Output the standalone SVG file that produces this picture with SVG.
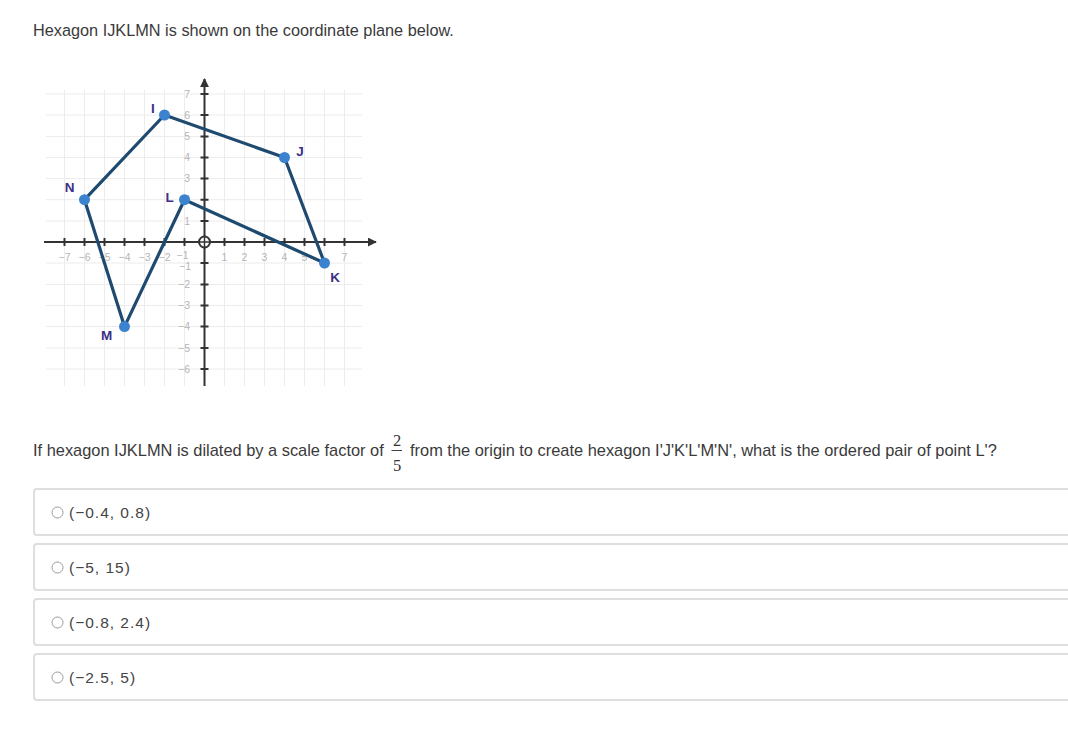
<svg xmlns="http://www.w3.org/2000/svg" width="1068" height="742" viewBox="0 0 1068 742">
<style>
text{font-family:"Liberation Sans",Arial,sans-serif}
.t{font-size:16.3px;fill:#3a3a3a}
.q{font-size:16.4px;fill:#3a3a3a}
.opt{font-size:15.5px;fill:#444;letter-spacing:1px}
.box{fill:#fff;stroke:#dedede;stroke-width:2}
.radio{fill:#fff;stroke:#9a9a9a;stroke-width:1}
.grid{stroke:#ececec;stroke-width:1}
.axis{stroke:#333;stroke-width:2;fill:none}
.tick{stroke:#333;stroke-width:2}
.lbl{font-size:10.5px;fill:#b5b5b5}
.edge{stroke:#1f4a70;stroke-width:3.2;fill:none;stroke-linecap:round}
.pt{fill:#3b83cf}
.vl{font-size:13.5px;font-weight:bold;fill:#3b2f86}
.fr{font-family:"Liberation Serif",serif;font-size:16.5px;fill:#333}
</style>
<defs>
<marker id="arr" viewBox="0 0 10 10" refX="9" refY="5" markerWidth="4.5" markerHeight="4.5" orient="auto">
<path d="M0,0 L10,5 L0,10 z" fill="#333"/>
</marker>
</defs>
<rect width="1068" height="742" fill="#fff"/>
<text class="t" x="33" y="36">Hexagon IJKLMN is shown on the coordinate plane below.</text>

<g id="grid">
<path class="grid" d="M64.5,90V386M84.5,90V386M104.5,90V386M124.5,90V386M144.5,90V386M164.5,90V386M184.5,90V386M224.5,90V386M244.5,90V386M264.5,90V386M284.5,90V386M304.5,90V386M324.5,90V386M344.5,90V386"/>
<path class="grid" d="M46,94H362M46,115H362M46,157.5H362M46,136.5H362M46,178.5H362M46,199.7H362M46,221H362M46,263H362M46,284.5H362M46,305.5H362M46,326.6H362M46,348H362M46,369H362"/>
</g>

<g id="axes">
<line class="axis" x1="44" y1="242" x2="376" y2="242" marker-end="url(#arr)"/>
<line class="axis" x1="204.5" y1="386" x2="204.5" y2="79" marker-end="url(#arr)"/>
<path class="tick" d="M64.5,238V246M84.5,238V246M104.5,238V246M124.5,238V246M144.5,238V246M164.5,238V246M184.5,238V246M224.5,238V246M244.5,238V246M264.5,238V246M284.5,238V246M304.5,238V246M324.5,238V246M344.5,238V246"/>
<path class="tick" d="M200.5,94H208.5M200.5,115H208.5M200.5,136.5H208.5M200.5,157.5H208.5M200.5,178.5H208.5M200.5,199.7H208.5M200.5,221H208.5M200.5,263H208.5M200.5,284.5H208.5M200.5,305.5H208.5M200.5,326.6H208.5M200.5,348H208.5M200.5,369H208.5"/>
<circle cx="204.5" cy="242" r="5.5" fill="#fff" stroke="#333" stroke-width="2"/>
<path d="M198,242H211M204.5,235.5V248.5" stroke="#333" stroke-width="1.5"/>
<g class="lbl" text-anchor="middle">
<text x="64.5" y="261">−7</text><text x="84.5" y="261">−6</text><text x="104.5" y="261">−5</text><text x="124.5" y="261">−4</text><text x="144.5" y="261">−3</text><text x="164.5" y="261">−2</text><text x="182.5" y="259">−1</text>
<text x="224.5" y="261">1</text><text x="244.5" y="261">2</text><text x="264.5" y="261">3</text><text x="284.5" y="261">4</text><text x="304.5" y="261">5</text><text x="344.5" y="261">7</text>
</g>
<g class="lbl" text-anchor="end">
<text x="190" y="97.5">7</text><text x="190" y="118.5">6</text><text x="190" y="140">5</text><text x="190" y="161">4</text><text x="190" y="182">3</text><text x="190" y="203">2</text><text x="190" y="224.5">1</text>
<text x="191" y="270">−1</text><text x="190" y="288">−2</text><text x="190" y="309">−3</text><text x="190" y="330">−4</text><text x="190" y="351.5">−5</text><text x="190" y="372.5">−6</text>
</g>
</g>

<g id="connectors">
<polygon class="edge" points="164.5,115 284.5,157.5 324.5,263 184.5,199.7 124.5,326.6 84.5,199.7" stroke-linejoin="round"/>
</g>

<g id="I"><circle class="pt" cx="164.5" cy="115" r="5.5"/><text class="vl" x="153" y="113" text-anchor="middle">I</text></g>
<g id="J"><circle class="pt" cx="284.5" cy="157.5" r="5.5"/><text class="vl" x="300" y="155.5" text-anchor="middle">J</text></g>
<g id="K"><circle class="pt" cx="324.5" cy="263" r="5.5"/><text class="vl" x="335" y="282" text-anchor="middle">K</text></g>
<g id="L"><circle class="pt" cx="184.5" cy="199.7" r="5.5"/><text class="vl" x="169.5" y="201.5" text-anchor="middle">L</text></g>
<g id="M"><circle class="pt" cx="124.5" cy="326.6" r="5.5"/><text class="vl" x="106.5" y="339.5" text-anchor="middle">M</text></g>
<g id="N"><circle class="pt" cx="84.5" cy="199.7" r="5.5"/><text class="vl" x="69.5" y="191.5" text-anchor="middle">N</text></g>

<g id="question">
<text class="q" x="33" y="456">If hexagon IJKLMN is dilated by a scale factor of</text>
<text class="fr" x="397" y="446" text-anchor="middle">2</text>
<line x1="391.5" y1="450.5" x2="402" y2="450.5" stroke="#444" stroke-width="1"/>
<text class="fr" x="397" y="471" text-anchor="middle">5</text>
<text class="q" x="410" y="456">from the origin to create hexagon I'J'K'L'M'N', what is the ordered pair of point L'?</text>
</g>

<g id="opt1"><rect class="box" x="34" y="489" width="1050" height="46" rx="3"/><circle class="radio" cx="57.5" cy="512.5" r="5.5"/><text class="opt" x="69" y="518">(−0.4, 0.8)</text></g>
<g id="opt2"><rect class="box" x="34" y="544" width="1050" height="46" rx="3"/><circle class="radio" cx="57.5" cy="567.5" r="5.5"/><text class="opt" x="69" y="573">(−5, 15)</text></g>
<g id="opt3"><rect class="box" x="34" y="599" width="1050" height="46" rx="3"/><circle class="radio" cx="57.5" cy="622.5" r="5.5"/><text class="opt" x="69" y="628">(−0.8, 2.4)</text></g>
<g id="opt4"><rect class="box" x="34" y="654" width="1050" height="46" rx="3"/><circle class="radio" cx="57.5" cy="677.5" r="5.5"/><text class="opt" x="69" y="683">(−2.5, 5)</text></g>
</svg>
